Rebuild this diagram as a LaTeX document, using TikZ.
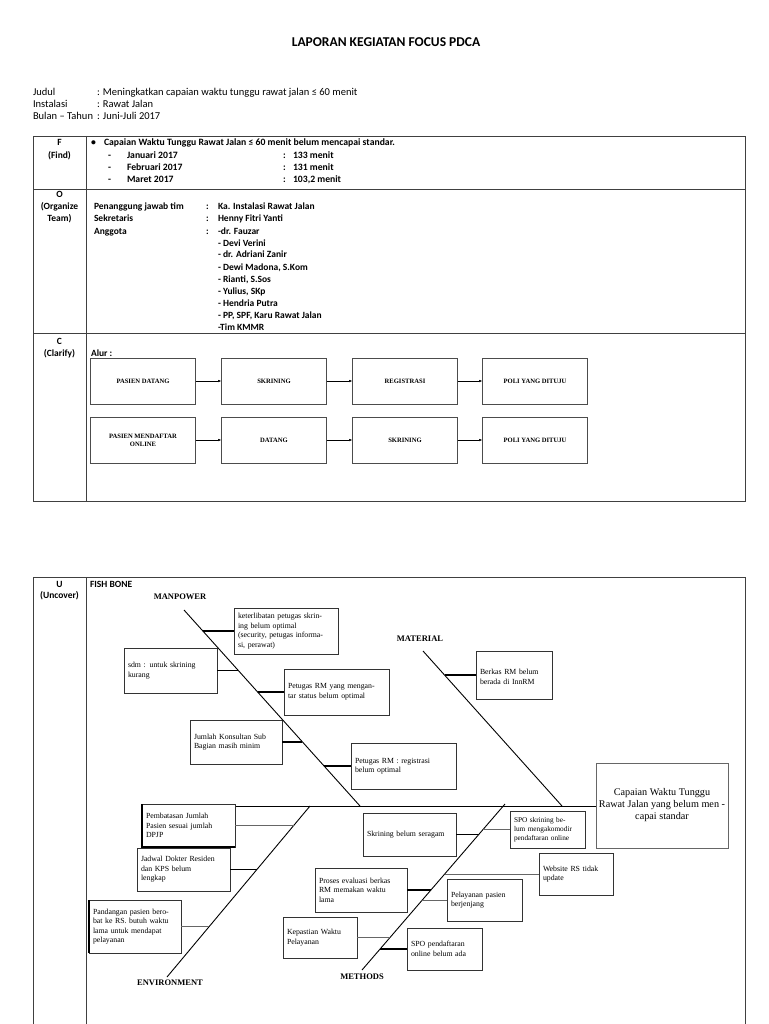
\documentclass[tikz,border=0pt]{standalone}
\usepackage{fontspec}
\setmainfont{Carlito}
\newfontfamily\tms{Liberation Serif}
\usetikzlibrary{calc,arrows.meta}
\begin{document}
\begin{tikzpicture}[x=1pt,y=-1pt,
  every node/.style={inner sep=0pt, outer sep=0pt},
  htxt/.style={anchor=base west, font=\fontsize{10.5}{12}\selectfont},
  btxt/.style={anchor=base west, font=\fontsize{9.7}{12}\selectfont\bfseries},
  otxt/.style={anchor=base west, font=\fontsize{9.5}{12}\selectfont\bfseries},
  lbl/.style={anchor=base, font=\fontsize{9.5}{12}\selectfont\bfseries},
  tline/.style={draw=black!75, line width=0.9pt},
  flowbox/.style={draw=black!70, line width=0.6pt, minimum width=105pt, minimum height=46pt, align=center, font=\tms\fontsize{6.6}{8}\selectfont\bfseries},
  flowarr/.style={-{Latex[length=3.5pt,width=2.5pt]}, line width=0.5pt},
  fb/.style={draw=black!80, line width=0.6pt, align=left, inner xsep=4pt, inner ysep=2pt, font=\tms\fontsize{7.8}{9.5}\selectfont},
  bone/.style={line width=0.9pt},
  conn/.style={line width=1.1pt},
  connthin/.style={line width=0.5pt, black!60},
  cat/.style={font=\tms\fontsize{8.5}{10}\selectfont\bfseries}
]
\useasboundingbox (0,0) rectangle (768,1024);
\fill[white] (0,0) rectangle (768,1024);

% title and header
\node[font=\fontsize{13.5}{15}\selectfont\bfseries] (title) at (386,42) {LAPORAN KEGIATAN FOCUS PDCA};
\node[htxt] (hj) at (33,96) {Judul};
\node[htxt] (hjv) at (97,96) {: Meningkatkan capaian waktu tunggu rawat jalan ≤ 60 menit};
\node[htxt] (hi) at (33,108) {Instalasi};
\node[htxt] (hiv) at (97,108) {: Rawat Jalan};
\node[htxt] (hb) at (33,120) {Bulan – Tahun};
\node[htxt] (hbv) at (97,120) {: Juni-Juli 2017};

% table 1 frame
\draw[tline] (33,136) rectangle (745,501);
\draw[tline] (86,136) -- (86,501);
\draw[tline] (33,189) -- (745,189);
\draw[tline] (33,333) -- (745,333);

% F row
\node[lbl] (lf) at (59.5,146) {F};
\node[lbl] (lf2) at (59.5,159) {(Find)};
\node[btxt] (fb0) at (91,146) {•};
\node[btxt] (f0) at (104,146) {Capaian Waktu Tunggu Rawat Jalan ≤ 60 menit belum mencapai standar.};
\node[btxt] (fd1) at (108,159) {-};
\node[btxt] (f1) at (127,159) {Januari 2017};
\node[btxt] (fc1) at (283,159) {:};
\node[btxt] (fv1) at (293,159) {133 menit};
\node[btxt] (fd2) at (108,171) {-};
\node[btxt] (f2) at (127,171) {Februari 2017};
\node[btxt] (fc2) at (283,171) {:};
\node[btxt] (fv2) at (293,171) {131 menit};
\node[btxt] (fd3) at (108,183) {-};
\node[btxt] (f3) at (127,183) {Maret 2017};
\node[btxt] (fc3) at (283,183) {:};
\node[btxt] (fv3) at (293,183) {103,2 menit};

% O row
\node[lbl] (lo1) at (59.5,198) {O};
\node[lbl] (lo2) at (59.5,210) {(Organize};
\node[lbl] (lo3) at (59.5,222) {Team)};
\node[otxt] (o1) at (94,210) {Penanggung jawab tim};
\node[otxt] (oc1) at (206,210) {:};
\node[otxt] (ov1) at (218,210) {Ka. Instalasi Rawat Jalan};
\node[otxt] (o2) at (94,222) {Sekretaris};
\node[otxt] (oc2) at (206,222) {:};
\node[otxt] (ov2) at (218,222) {Henny Fitri Yanti};
\node[otxt] (o3) at (94,234) {Anggota};
\node[otxt] (oc3) at (206,234) {:};
\node[otxt] (ov3) at (218,234) {-dr. Fauzar};
\node[otxt] (ov4) at (218,246) {- Devi Verini};
\node[otxt] (ov5) at (218,258) {- dr. Adriani Zanir};
\node[otxt] (ov6) at (218,270) {- Dewi Madona, S.Kom};
\node[otxt] (ov7) at (218,282) {- Rianti, S.Sos};
\node[otxt] (ov8) at (218,294) {- Yulius, SKp};
\node[otxt] (ov9) at (218,306) {- Hendria Putra};
\node[otxt] (ov10) at (218,318) {- PP, SPF, Karu Rawat Jalan};
\node[otxt] (ov11) at (218,330) {-Tim KMMR};

% C row
\node[lbl] (lc1) at (59.5,344) {C};
\node[lbl] (lc2) at (59.5,356) {(Clarify)};
\node[otxt] (alur) at (91,356) {Alur :};
\node[flowbox] (p1) at (143,381) {PASIEN DATANG};
\node[flowbox] (p2) at (274,381) {SKRINING};
\node[flowbox] (p3) at (405,381) {REGISTRASI};
\node[flowbox] (p4) at (535,381) {POLI YANG DITUJU};
\node[flowbox] (q1) at (143,440) {PASIEN MENDAFTAR\\ONLINE};
\node[flowbox] (q2) at (274,440) {DATANG};
\node[flowbox] (q3) at (405,440) {SKRINING};
\node[flowbox] (q4) at (535,440) {POLI YANG DITUJU};
\draw[flowarr] (p1) -- (p2);
\draw[flowarr] (p2) -- (p3);
\draw[flowarr] (p3) -- (p4);
\draw[flowarr] (q1) -- (q2);
\draw[flowarr] (q2) -- (q3);
\draw[flowarr] (q3) -- (q4);

% table 2 frame
\draw[tline] (33,1024) -- (33,577) -- (745,577) -- (745,1024);
\draw[tline] (86,577) -- (86,1024);
\node[lbl] (lu1) at (59.5,587) {U};
\node[lbl] (lu2) at (59.5,598) {(Uncover)};
\node[otxt] (fish) at (90,587) {FISH BONE};

% fishbone categories
\node[cat] (cmp) at (180,597) {MANPOWER};
\node[cat] (cma) at (420,639) {MATERIAL};
\node[cat] (cen) at (170,983) {ENVIRONMENT};
\node[cat] (cme) at (362,977) {METHODS};

% bones
\coordinate (mp1) at (184,610); \coordinate (mp2) at (360,806);
\coordinate (ma1) at (423,651); \coordinate (ma2) at (562,806);
\coordinate (en1) at (167,977); \coordinate (en2) at (310,806);
\coordinate (me1) at (362,970); \coordinate (me2) at (505,804);

% effect box
\node[draw=black!60, line width=0.8pt, minimum width=132pt, minimum height=85pt, align=center, font=\tms\fontsize{10.2}{12}\selectfont] (eff) at (662,805.5) {Capaian Waktu Tunggu\\Rawat Jalan yang belum men -\\capai standar};

% cause boxes
\node[fb, minimum height=46pt, text width=96pt] (ket) at (286,631) {keterlibatan petugas skrin-\\ing belum optimal\\(security, petugas informa-\\si, perawat)};
\node[fb, minimum height=45pt, text width=85pt] (sdm) at (170.5,670.5) {sdm : untuk skrining\\kurang};
\node[fb, minimum height=46pt, text width=97pt] (petA) at (336.5,692) {Petugas RM yang mengan-\\tar status belum optimal};
\node[fb, minimum height=44pt, text width=84pt] (jml) at (236,742) {Jumlah Konsultan Sub\\Bagian masih minim};
\node[fb, minimum height=46pt, text width=97pt] (petB) at (403.5,766) {Petugas RM : registrasi\\belum optimal};
\node[fb, minimum height=48pt, text width=68pt, anchor=north] (berkas) at (514,651) {\rule{0pt}{9pt}Berkas RM belum\\berada di InnRM\\[18pt]};
\node[fb, minimum height=43pt, text width=85pt] (pemb) at (188.5,825.5) {Pembatasan Jumlah\\Pasien sesuai jumlah\\DPJP};
\node[fb, minimum height=43pt, text width=85pt] (jadwal) at (183.5,869.5) {Jadwal Dokter Residen\\dan KPS belum\\lengkap};
\node[fb, minimum height=53pt, text width=84pt] (pand) at (135,926.5) {Pandangan pasien bero-\\bat ke RS. butuh waktu\\lama untuk mendapat\\pelayanan};
\node[fb, minimum height=43pt, text width=85pt] (skr) at (409.5,834.5) {Skrining belum seragam};
\node[fb, minimum height=37pt, text width=67pt, font=\tms\fontsize{7.3}{9}\selectfont] (spoS) at (547.5,829.5) {SPO skrining be-\\lum mengakomodir\\pendaftaran online};
\node[fb, minimum height=42pt, text width=66pt] (web) at (576,874) {Website RS tidak\\update};
\node[fb, minimum height=44pt, text width=84pt] (proses) at (361,890) {Proses evaluasi berkas\\RM memakan waktu\\lama};
\node[fb, minimum height=42pt, text width=67pt] (pel) at (484.5,900) {Pelayanan pasien\\berjenjang};
\node[fb, minimum height=41pt, text width=66pt] (kep) at (320,937.5) {Kepastian Waktu\\Pelayanan};
\node[fb, minimum height=42pt, text width=67pt] (spoP) at (444.5,949) {SPO pendaftaran\\online belum ada};

% heavy edges
\draw[line width=1.6pt] (pemb.north west) -- (pemb.south west) -- (pemb.south east);
\draw[line width=1.6pt] (pand.north west) -- (pand.south west);

% bone lines
\draw[bone] (mp1) -- (mp2);
\draw[bone] (ma1) -- (ma2);
\draw[bone] (en1) -- (en2);
\draw[bone] (me1) -- (me2);
\coordinate (sp0) at (236,806);
\draw[bone] (sp0) -- (sp0 -| eff.west);

% points on bones
\coordinate (bket) at ($(mp1)!0.107!(mp2)$);
\coordinate (bsdm) at ($(mp1)!0.309!(mp2)$);
\coordinate (bpetA) at ($(mp1)!0.418!(mp2)$);
\coordinate (bjml) at ($(mp1)!0.673!(mp2)$);
\coordinate (bpetB) at ($(mp1)!0.796!(mp2)$);
\coordinate (bberkas) at ($(ma1)!0.155!(ma2)$);
\coordinate (bpemb) at ($(en1)!0.886!(en2)$);
\coordinate (bjadwal) at ($(en1)!0.629!(en2)$);
\coordinate (bpand) at ($(en1)!0.295!(en2)$);
\coordinate (bskr) at ($(me1)!0.816!(me2)$);
\coordinate (bspoS) at ($(me1)!0.846!(me2)$);
\coordinate (bweb) at ($(me1)!0.578!(me2)$);
\coordinate (bproses) at ($(me1)!0.482!(me2)$);
\coordinate (bpel) at ($(me1)!0.422!(me2)$);
\coordinate (bkep) at ($(me1)!0.196!(me2)$);
\coordinate (bspoP) at ($(me1)!0.127!(me2)$);

% connectors
\draw[conn] (ket.west) -- (ket.west -| bket);
\draw[conn] (sdm.east) -- (sdm.east -| bsdm);
\draw[conn] (petA.west) -- (petA.west -| bpetA);
\draw[conn] (jml.east) -- (jml.east -| bjml);
\draw[conn] (petB.west) -- (petB.west -| bpetB);
\draw[conn] (berkas.west) -- (berkas.west -| bberkas);
\draw[connthin] (pemb.east) -- (pemb.east -| bpemb);
\draw[conn] (jadwal.east) -- (jadwal.east -| bjadwal);
\draw[connthin] (pand.east) -- (pand.east -| bpand);
\draw[conn] (skr.east) -- (skr.east -| bskr);
\draw[connthin] (spoS.west) -- (spoS.west -| bspoS);
\draw[connthin] (web.west) -- (web.west -| bweb);
\draw[conn] (proses.east) -- (proses.east -| bproses);
\draw[connthin] (pel.west) -- (pel.west -| bpel);
\draw[connthin] (kep.east) -- (kep.east -| bkep);
\draw[conn] (spoP.west) -- (spoP.west -| bspoP);
\end{tikzpicture}
\end{document}
